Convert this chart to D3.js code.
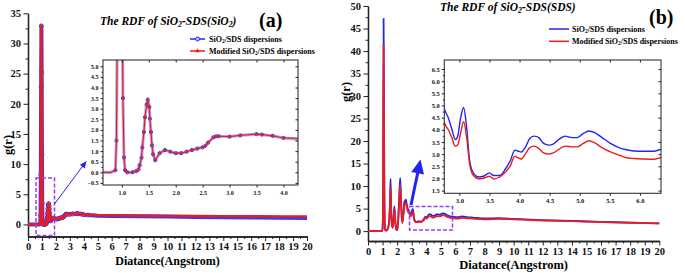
<!DOCTYPE html>
<html>
<head>
<meta charset="utf-8">
<script src="https://cdn.jsdelivr.net/npm/d3@7"></script>
<style>
  body { margin: 0; background: #fff; }
  svg { display: block; }
</style>
</head>
<body>
<div id="chart"></div>
<script>
// ---------- data, panel (a): RDF of SiO2-SDS (SiO2) ----------
const rA = [0, 0.5, 0.8, 0.88, 0.9, 0.92, 0.94, 0.96, 0.98, 1.0, 1.02, 1.04, 1.06, 1.1, 1.2,
  1.27, 1.31, 1.33, 1.365, 1.38, 1.41, 1.43, 1.46, 1.48, 1.51, 1.52, 1.54, 1.56, 1.58, 1.62,
  1.7, 1.8, 1.9, 2.0, 2.1, 2.2, 2.3, 2.4, 2.5, 2.55, 2.6, 2.7, 2.75, 2.8, 3.0, 3.2, 3.5, 3.6,
  3.8, 4.0, 4.3, 5, 6, 8, 10, 12, 14, 16, 18, 20];
const blueA = [0, 0, 0, 0.1, 1.5, 8.3, 22.8, 32.9, 25.2, 11.6, 3.5, 0.7, 0.1, 0, 0,
  0.06, 0.13, 0.33, 0.69, 1.17, 1.9, 2.6, 3.2, 3.43, 3.08, 2.53, 1.9, 1.27, 0.85, 0.57,
  0.9, 1.05, 0.97, 0.9, 0.9, 0.97, 1.05, 1.12, 1.18, 1.25, 1.4, 1.65, 1.7, 1.7, 1.68, 1.74, 1.8, 1.78,
  1.72, 1.62, 1.55, 1.45, 1.4, 1.35, 1.3, 1.25, 1.2, 1.15, 1.1, 1.05];
const redA = [0, 0, 0, 0.1, 1.5, 8.3, 22.8, 32.9, 25.2, 11.6, 3.5, 0.7, 0.1, 0, 0,
  0.06, 0.13, 0.33, 0.69, 1.17, 1.9, 2.6, 3.2, 3.43, 3.08, 2.53, 1.9, 1.27, 0.85, 0.57,
  0.9, 1.05, 0.97, 0.9, 0.9, 0.97, 1.05, 1.12, 1.18, 1.25, 1.4, 1.65, 1.7, 1.7, 1.68, 1.74, 1.8, 1.78,
  1.72, 1.62, 1.6, 1.55, 1.5, 1.45, 1.42, 1.4, 1.38, 1.36, 1.34, 1.32];

// ---------- data, panel (b): RDF of SiO2-SDS (SDS) ----------
const rB = [0, 0.95, 1.0, 1.03, 1.07, 1.12, 1.17, 1.25, 1.35, 1.45, 1.5, 1.55, 1.6, 1.67, 1.74,
  1.81, 1.88, 1.95, 2.01, 2.08, 2.15, 2.21, 2.28, 2.35, 2.42, 2.5, 2.6, 2.68, 2.77, 2.82, 2.88,
  2.93, 2.97, 3.02, 3.07, 3.12, 3.17, 3.23, 3.32, 3.40, 3.50, 3.57, 3.67, 3.77, 3.85, 3.92, 3.97,
  4.03, 4.10, 4.17, 4.24, 4.32, 4.40, 4.49, 4.56, 4.65, 4.76, 4.87, 4.96, 5.06, 5.15, 5.25, 5.37,
  5.51, 5.65, 5.76, 5.90, 6.07, 6.23, 6.34, 6.5, 6.8, 7.2, 8, 9, 10, 12, 14, 16, 18, 20];
const blueB = [0, 0, 0.6, 5, 47.2, 10, 0.4, 0.1, 0.5, 2, 5.5, 11.6, 4, 0.8, 2,
  5.5, 2, 0.3, 0.2, 3, 8, 11.8, 6, 1.9, 3.5, 6.5, 7.0, 5.5, 4.74, 4.47, 3.99,
  3.60, 3.71, 4.47, 4.92, 4.12, 2.75, 2.23, 2.06, 2.09, 2.23, 2.12, 2.12, 2.41, 2.75, 3.16, 3.13,
  3.09, 3.30, 3.64, 3.74, 3.68, 3.44, 3.37, 3.41, 3.60, 3.74, 3.68, 3.68, 3.85, 3.95, 3.88, 3.68,
  3.44, 3.27, 3.19, 3.13, 3.12, 3.12, 3.19, 3.25, 3.1, 3.0, 2.8, 2.85, 2.7, 2.45, 2.25, 2.05, 1.9, 1.72];
const redB = [0, 0, 0.5, 4.5, 41.4, 9, 0.3, 0.1, 0.4, 1.8, 5, 9.8, 3.5, 0.7, 1.8,
  4.8, 1.8, 0.3, 0.2, 2.7, 7, 10.3, 5.3, 1.8, 3.3, 5.8, 6.3, 5.0, 4.19, 3.99, 3.64,
  3.33, 3.37, 3.85, 4.33, 3.71, 2.61, 2.13, 1.99, 2.01, 2.09, 1.98, 2.06, 2.27, 2.54, 2.91, 2.86,
  2.80, 3.02, 3.27, 3.33, 3.23, 3.05, 3.00, 3.05, 3.19, 3.33, 3.30, 3.30, 3.44, 3.55, 3.46, 3.27,
  3.09, 2.96, 2.86, 2.82, 2.80, 2.79, 2.85, 2.92, 2.85, 2.75, 2.6, 2.7, 2.6, 2.35, 2.2, 2.0, 1.85, 1.7];

// ---------- tick values ----------
const xTicksMain = [0, 1, 2, 3, 4, 5, 6, 7, 8, 9, 10, 11, 12, 13, 14, 15, 16, 17, 18, 19, 20];
const yTicksA = [0, 5, 10, 15, 20, 25, 30, 35];
const yTicksB = [0, 5, 10, 15, 20, 25, 30, 35, 40, 45, 50];
const xTicksInsetA = [1.0, 1.5, 2.0, 2.5, 3.0, 3.5, 4.0];
const yTicksInsetA = [-0.5, 0.0, 0.5, 1.0, 1.5, 2.0, 2.5, 3.0, 3.5, 4.0, 4.5, 5.0];
const xTicksInsetB = [3.0, 3.5, 4.0, 4.5, 5.0, 5.5, 6.0];
const yTicksInsetB = [1.5, 2.0, 2.5, 3.0, 3.5, 4.0, 4.5, 5.0, 5.5, 6.0, 6.5];

const seriesNames = ['SiO2/SDS dispersions', 'Modified SiO2/SDS dispersions'];

const blue = '#2424f0';
const red = '#ec1c1c';
const purple = '#9a3cf2';
const font = "'Liberation Serif', 'Times New Roman', serif";

const width = 685;
const height = 273;

const svg = d3.select('#chart')
  .append('svg')
    .attr('width', width)
    .attr('height', height)
    .attr('viewBox', [0, 0, width, height]);

const defs = svg.append('defs');

// style an axis group the same way everywhere
function styleAxis(g, fontSize) {
  g.attr('font-family', font).attr('font-weight', 'bold').attr('font-size', fontSize);
  g.select('.domain').attr('stroke', '#222').attr('stroke-width', 1.3);
  g.selectAll('.tick line').attr('stroke', '#222').attr('stroke-width', 1);
  g.selectAll('.tick text').attr('fill', '#111');
}

// text with subscript "2" pieces, parts = [[text, isSub], ...]
function subText(sel, parts) {
  parts.forEach(p => {
    const t = sel.append('tspan').text(p[0]);
    if (p[1]) t.attr('font-size', '0.68em').attr('baseline-shift', '-28%');
  });
  return sel;
}

function legendParts(name) {
  const i = name.indexOf('SiO2');
  return [[name.slice(0, i) + 'SiO', false], ['2', true], [name.slice(i + 4), false]];
}

// filled arrow (line + triangular head)
function arrow(x1, y1, x2, y2, sw, headLen, headHalf, color) {
  const dx = x2 - x1, dy = y2 - y1, L = Math.hypot(dx, dy);
  const ux = dx / L, uy = dy / L;
  const bx = x2 - ux * headLen, by = y2 - uy * headLen;
  svg.append('line')
    .attr('x1', x1).attr('y1', y1).attr('x2', bx + ux).attr('y2', by + uy)
    .attr('stroke', color).attr('stroke-width', sw);
  svg.append('polygon')
    .attr('points', [[x2, y2], [bx - uy * headHalf, by + ux * headHalf], [bx + uy * headHalf, by - ux * headHalf]].map(p => p.join(',')).join(' '))
    .attr('fill', color);
}

function mainAxes(x, y, yTicks, labelSize) {
  const y0 = y.range()[0], x0 = x.range()[0];
  const minorX = xTicksMain.slice(0, -1).map(d => d + 0.5);
  const minorY = yTicks.slice(0, -1).map(d => d + 2.5);
  svg.append('g').attr('transform', `translate(0,${y0})`)
    .call(d3.axisBottom(x).tickValues(minorX).tickSize(2.5).tickFormat('').tickSizeOuter(0))
    .call(g => styleAxis(g, labelSize));
  svg.append('g').attr('transform', `translate(0,${y0})`)
    .call(d3.axisBottom(x).tickValues(xTicksMain).tickSize(4.5).tickPadding(2).tickSizeOuter(0))
    .call(g => styleAxis(g, labelSize));
  svg.append('g').attr('transform', `translate(${x0},0)`)
    .call(d3.axisLeft(y).tickValues(minorY).tickSize(2.5).tickFormat('').tickSizeOuter(0))
    .call(g => styleAxis(g, labelSize));
  svg.append('g').attr('transform', `translate(${x0},0)`)
    .call(d3.axisLeft(y).tickValues(yTicks).tickSize(4.5).tickPadding(2.5).tickSizeOuter(0))
    .call(g => styleAxis(g, labelSize));
}

function insetAxes(x, y, xTicks, yTicks, fs, fmt) {
  const [x0, x1] = x.range(), [y0, y1] = y.range();
  svg.append('rect')
    .attr('x', x0).attr('y', y1).attr('width', x1 - x0).attr('height', y0 - y1)
    .attr('fill', 'none').attr('stroke', '#333').attr('stroke-width', 1.1);
  const minorY = yTicks.slice(0, -1).map(d => d + 0.25);
  svg.append('g').attr('transform', `translate(0,${y0})`)
    .call(d3.axisBottom(x).tickValues(xTicks).tickSize(2.5).tickPadding(3).tickFormat(fmt).tickSizeOuter(0))
    .call(g => styleAxis(g, fs)).call(g => g.select('.domain').remove());
  svg.append('g').attr('transform', `translate(0,${y1})`)
    .call(d3.axisBottom(x).tickValues(xTicks).tickSize(2.5).tickFormat('').tickSizeOuter(0))
    .call(g => styleAxis(g, fs)).call(g => g.select('.domain').remove());
  svg.append('g').attr('transform', `translate(${x0},0)`)
    .call(d3.axisLeft(y).tickValues(yTicks).tickSize(2.5).tickPadding(2).tickFormat(fmt).tickSizeOuter(0))
    .call(g => styleAxis(g, fs)).call(g => g.select('.domain').remove());
  svg.append('g').attr('transform', `translate(${x0},0)`)
    .call(d3.axisLeft(y).tickValues(minorY).tickSize(1.5).tickFormat('').tickSizeOuter(0))
    .call(g => styleAxis(g, fs)).call(g => g.select('.domain').remove());
  svg.append('g').attr('transform', `translate(${x1},0)`)
    .call(d3.axisLeft(y).tickValues(yTicks).tickSize(2.5).tickFormat('').tickSizeOuter(0))
    .call(g => styleAxis(g, fs)).call(g => g.select('.domain').remove());
}

function clipFor(id, x, y) {
  const [x0, x1] = x.range(), [y0, y1] = y.range();
  defs.append('clipPath').attr('id', id)
    .append('rect').attr('x', x0).attr('y', y1).attr('width', x1 - x0).attr('height', y0 - y1);
  return `url(#${id})`;
}

// =================== PANEL (a) ===================
const xA = d3.scaleLinear().domain([0, 20]).range([28, 307]);
const yA = d3.scaleLinear().domain([-2, 35]).range([236.5, 13.3]);
const xIA = d3.scaleLinear().domain([0.65, 4.27]).range([103, 298]);
const yIA = d3.scaleLinear().domain([-0.6, 5.3]).range([185, 60]);

// blue = band of dense open circles, red = line with small triangles on top
function drawA(x, y, clip, bandW, bandColor, redW, mr) {
  const g = svg.append('g').attr('clip-path', clip);
  const line = d3.line().x((d, i) => x(rA[i])).y(d => y(d));
  g.append('path').datum(blueA).attr('d', line)
    .attr('fill', 'none').attr('stroke', bandColor).attr('stroke-width', bandW).attr('stroke-linejoin', 'round');
  const pts = rA.map((r, i) => [r, blueA[i], redA[i]]).filter(d => d[0] > 0.85 && d[0] <= 4.3);
  g.selectAll(null).data(pts).join('circle')
    .attr('cx', d => x(d[0])).attr('cy', d => y(d[1])).attr('r', mr)
    .attr('fill', '#c8c8fa').attr('stroke', blue).attr('stroke-width', 0.9);
  g.append('path').datum(redA).attr('d', line)
    .attr('fill', 'none').attr('stroke', red).attr('stroke-width', redW).attr('stroke-linejoin', 'round');
  g.selectAll(null).data(pts).join('path')
    .attr('d', d3.symbol(d3.symbolTriangle, mr * mr * 1.6))
    .attr('transform', d => `translate(${x(d[0])},${y(d[2])})`)
    .attr('fill', red);
}

mainAxes(xA, yA, yTicksA, 10.5);
drawA(xA, yA, null, 4, '#3a3af2', 2.4, 2);

// zoom box and arrow
svg.append('rect')
  .attr('x', 36).attr('y', 178).attr('width', 18.5).attr('height', 57.5)
  .attr('fill', 'none').attr('stroke', purple).attr('stroke-width', 1.5).attr('stroke-dasharray', '4 2');
arrow(54.5, 204, 86.5, 161, 1, 7, 3, blue);

// inset (a)
svg.append('rect').attr('x', 103).attr('y', 60).attr('width', 195).attr('height', 125).attr('fill', '#fff');
drawA(xIA, yIA, clipFor('clipIA', xIA, yIA), 3.2, '#b0b0f0', 1.2, 1.6);
insetAxes(xIA, yIA, xTicksInsetA, yTicksInsetA, 6, d3.format('.1f'));

// labels (a)
svg.append('text')
  .attr('x', xA(10)).attr('y', 265)
  .attr('text-anchor', 'middle').attr('font-family', font).attr('font-weight', 'bold').attr('font-size', 12)
  .text('Diatance(Angstrom)');
svg.append('text')
  .attr('transform', 'translate(12,145) rotate(-90)')
  .attr('text-anchor', 'middle').attr('font-family', font).attr('font-weight', 'bold').attr('font-size', 12.5)
  .text('g(r)');
subText(svg.append('text')
  .attr('x', 100).attr('y', 25)
  .attr('font-family', font).attr('font-weight', 'bold').attr('font-style', 'italic').attr('font-size', 11.5),
  [['The RDF of SiO', 0], ['2', 1], ['-SDS(SiO', 0], ['2', 1], [')', 0]]);
svg.append('text')
  .attr('x', 259).attr('y', 27)
  .attr('font-family', font).attr('font-weight', 'bold').attr('font-size', 20)
  .text('(a)');

// legend (a)
[blue, red].forEach((c, i) => {
  const ly = 39 + i * 12;
  svg.append('line').attr('x1', 190).attr('x2', 205).attr('y1', ly).attr('y2', ly)
    .attr('stroke', c).attr('stroke-width', 1.5);
  if (i === 0) {
    svg.append('circle').attr('cx', 197.5).attr('cy', ly).attr('r', 2)
      .attr('fill', '#c4c4fa').attr('stroke', blue).attr('stroke-width', 1);
  } else {
    svg.append('path').attr('d', d3.symbol(d3.symbolTriangle, 9)())
      .attr('transform', `translate(197.5,${ly})`).attr('fill', red);
  }
  subText(svg.append('text')
    .attr('x', 209).attr('y', ly + 3)
    .attr('font-family', font).attr('font-weight', 'bold').attr('font-size', 8),
    legendParts(seriesNames[i]));
});

// =================== PANEL (b) ===================
const xB = d3.scaleLinear().domain([0, 20]).range([368, 659.3]);
const yB = d3.scaleLinear().domain([-2.2, 50]).range([241, 6]);
const xIB = d3.scaleLinear().domain([2.75, 6.35]).range([444.3, 661]);
const yIB = d3.scaleLinear().domain([1.39, 6.87]).range([193.3, 60]);

function drawB(x, y, clip, w) {
  const g = svg.append('g').attr('clip-path', clip);
  const line = d3.line().x((d, i) => x(rB[i])).y(d => y(d)).curve(d3.curveMonotoneX);
  g.append('path').datum(blueB).attr('d', line)
    .attr('fill', 'none').attr('stroke', blue).attr('stroke-width', w).attr('stroke-linejoin', 'round');
  g.append('path').datum(redB).attr('d', line)
    .attr('fill', 'none').attr('stroke', red).attr('stroke-width', w).attr('stroke-linejoin', 'round');
}

mainAxes(xB, yB, yTicksB, 10.5);
drawB(xB, yB, null, 1.8);

svg.append('rect')
  .attr('x', 409.5).attr('y', 206.5).attr('width', 43).attr('height', 23.5)
  .attr('fill', 'none').attr('stroke', purple).attr('stroke-width', 1.5).attr('stroke-dasharray', '4 2');
arrow(411, 205, 420.5, 159.5, 3, 14, 6.5, blue);

// inset (b)
svg.append('rect').attr('x', 444.3).attr('y', 60).attr('width', 216.7).attr('height', 133.3).attr('fill', '#fff');
drawB(xIB, yIB, clipFor('clipIB', xIB, yIB), 1.4);
insetAxes(xIB, yIB, xTicksInsetB, yTicksInsetB, 6.5, d3.format('.1f'));

// labels (b)
svg.append('text')
  .attr('x', xB(10)).attr('y', 269)
  .attr('text-anchor', 'middle').attr('font-family', font).attr('font-weight', 'bold').attr('font-size', 12.5)
  .text('Diatance(Angstrom)');
svg.append('text')
  .attr('transform', 'translate(350,92) rotate(-90)')
  .attr('text-anchor', 'middle').attr('font-family', font).attr('font-weight', 'bold').attr('font-size', 12.5)
  .text('g(r)');
subText(svg.append('text')
  .attr('x', 440).attr('y', 11)
  .attr('font-family', font).attr('font-weight', 'bold').attr('font-style', 'italic').attr('font-size', 11.5),
  [['The RDF of SiO', 0], ['2', 1], ['-SDS(SDS)', 0]]);
svg.append('text')
  .attr('x', 649).attr('y', 24)
  .attr('font-family', font).attr('font-weight', 'bold').attr('font-size', 20)
  .text('(b)');

[blue, red].forEach((c, i) => {
  const ly = 29 + i * 12.3;
  svg.append('line').attr('x1', 549).attr('x2', 569).attr('y1', ly).attr('y2', ly)
    .attr('stroke', c).attr('stroke-width', 1.5);
  subText(svg.append('text')
    .attr('x', 572).attr('y', ly + 3)
    .attr('font-family', font).attr('font-weight', 'bold').attr('font-size', 8),
    legendParts(seriesNames[i]));
});
</script>
</body>
</html>
